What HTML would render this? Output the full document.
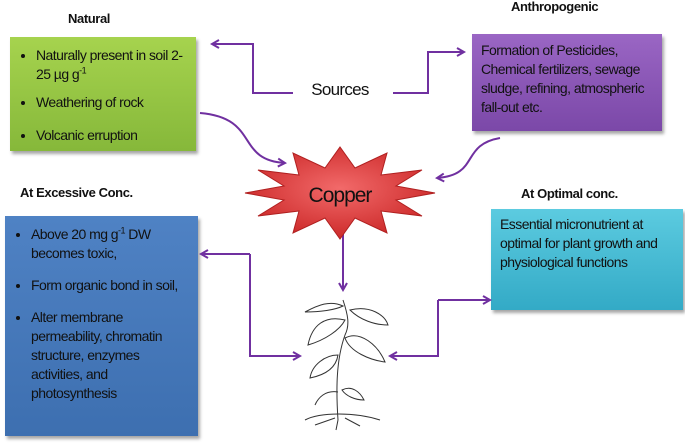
<!DOCTYPE html>
<html><head><meta charset="utf-8"><style>
body{margin:0;background:#fff;width:685px;height:443px;overflow:hidden;position:relative;font-family:"Liberation Sans",sans-serif;}
.box{position:absolute;box-shadow:2px 3px 3px rgba(0,0,0,.35);color:#111;font-size:14px;letter-spacing:-0.55px;line-height:19px;box-sizing:border-box;white-space:nowrap;}
.h{position:absolute;font-weight:bold;font-size:13px;letter-spacing:-0.4px;color:#111;}
ul{margin:0;padding:0 0 0 22px;}
li{margin:0 0 13px 0;}
sup{font-size:9px;line-height:0;}
</style></head><body>
<div class="h" style="left:68px;top:11px">Natural</div>
<div class="h" style="left:511px;top:-1px">Anthropogenic</div>
<div class="h" style="left:20px;top:185px">At Excessive Conc.</div>
<div class="h" style="left:521px;top:186px">At Optimal conc.</div>
<div class="box" style="left:10px;top:37px;width:186px;height:114px;background:linear-gradient(#a6d34e,#86b83a);padding:9px 4px 0 4px">
<ul><li style="margin-bottom:9px">Naturally present in soil 2-<br>25 µg g<sup>-1</sup></li><li style="margin-bottom:14px">Weathering of rock</li><li>Volcanic erruption</li></ul></div>
<div class="box" style="left:472px;top:34px;width:190px;height:97px;background:linear-gradient(#9a66c4,#7b48a8);padding:7px 9px">Formation of Pesticides,<br>Chemical fertilizers, sewage<br>sludge, refining, atmospheric<br>fall-out etc.</div>
<div class="box" style="left:5px;top:216px;width:193px;height:220px;background:linear-gradient(#4f82c4,#3d6fb0);padding:9px 4px 0 4px">
<ul><li>Above 20 mg g<sup>-1</sup> DW<br>becomes toxic,</li><li>Form organic bond in soil,</li><li>Alter membrane<br>permeability, chromatin<br>structure, enzymes<br>activities, and<br>photosynthesis</li></ul></div>
<div class="box" style="left:491px;top:209px;width:192px;height:101px;background:linear-gradient(#5ccbe0,#33aac6);padding:6px 9px">Essential micronutrient at<br>optimal for plant growth and<br>physiological functions</div>
<svg width="685" height="443" style="position:absolute;left:0;top:0">
<defs><marker id="a" markerWidth="10" markerHeight="10" refX="8" refY="5" orient="auto" markerUnits="userSpaceOnUse"><path d="M1,1 L8,5 L1,9" fill="none" stroke="#7030a0" stroke-width="2"/></marker>
<radialGradient id="g" cx="50%" cy="45%" r="60%"><stop offset="0" stop-color="#f26a6a"/><stop offset="1" stop-color="#c92424"/></radialGradient></defs>
<g fill="none" stroke="#7030a0" stroke-width="2">
<path d="M293,93 H253 V44 H212" marker-end="url(#a)"/>
<path d="M393,93 H428 V52 H464" marker-end="url(#a)"/>
<path d="M200,113 C260,118 235,160 285,163" marker-end="url(#a)"/>
<path d="M500,138 C460,145 480,175 437,178" marker-end="url(#a)"/>
<path d="M343,232 V290" marker-end="url(#a)"/>
<path d="M250,254 V356 H300" marker-end="url(#a)"/>
<path d="M250,254 H201" marker-end="url(#a)"/>
<path d="M438,300 V356 H390" marker-end="url(#a)"/>
<path d="M438,300 H490" marker-end="url(#a)"/>
</g>
<polygon points="435,193 396,200 422,216 381,211 387,233 355,218 340,239 325,218 293,233 299,211 258,216 284,200 245,193 284,186 258,170 299,175 293,153 325,168 340,147 355,168 387,153 381,175 422,170 396,186" fill="url(#g)" stroke="#b02020" stroke-width="1"/>
<text x="340" y="202" text-anchor="middle" font-size="21" letter-spacing="-1" font-family="Liberation Sans,sans-serif" fill="#111">Copper</text>
<text x="340" y="95" text-anchor="middle" font-size="17" letter-spacing="-0.7" font-family="Liberation Sans,sans-serif" fill="#111">Sources</text>
<g fill="#fff" stroke="#333" stroke-width="1">
<path d="M338,420 C336,390 336,360 345,335 C350,325 348,315 343,300" fill="none"/>
<path d="M343,306 C330,300 318,305 305,312 C320,312 335,310 343,306Z"/>
<path d="M345,320 C325,315 312,325 308,345 C325,340 340,330 345,320Z"/>
<path d="M350,310 C370,305 385,315 388,325 C375,325 360,320 350,310Z"/>
<path d="M345,338 C360,330 378,345 385,362 C370,360 350,352 345,338Z"/>
<path d="M338,355 C325,355 312,365 310,378 C325,375 336,368 338,355Z"/>
<path d="M342,390 C352,385 360,392 364,400 C355,400 346,396 342,390Z"/>
<path d="M338,392 C325,390 318,398 315,405" fill="none"/>
<path d="M305,420 C320,412 355,412 380,420" fill="none"/>
<path d="M315,425 L335,418 M360,426 L345,418 M338,420 L336,430" fill="none"/>
</g>
</svg>
</body></html>
